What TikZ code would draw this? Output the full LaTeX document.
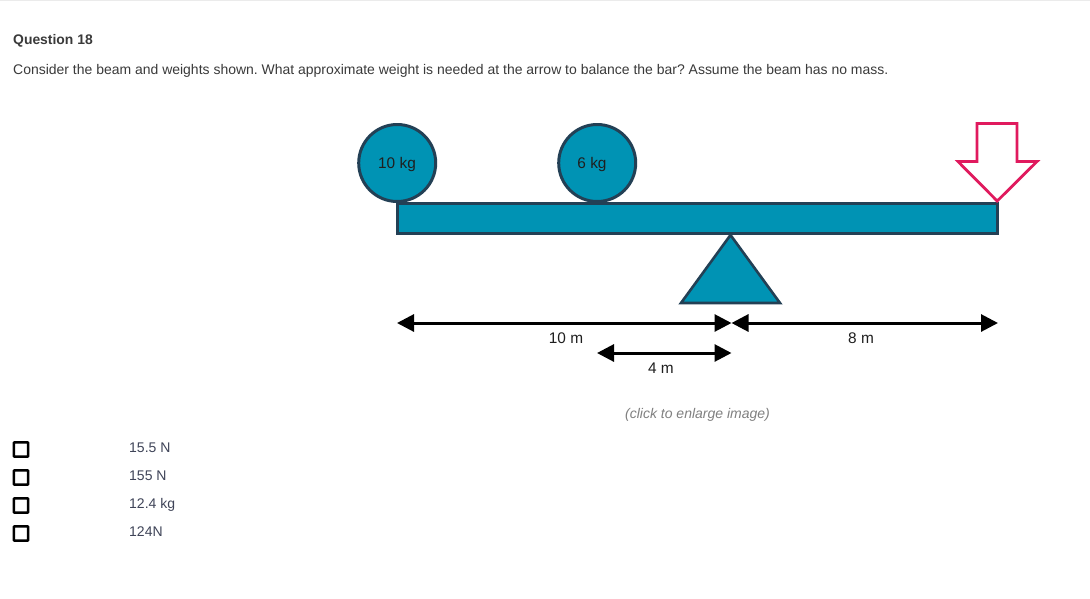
\documentclass[tikz,border=0pt]{standalone}
\usepackage{fontspec}
\setmainfont{Liberation Sans}
\usetikzlibrary{arrows.meta}
\definecolor{teal}{HTML}{0093B4}
\definecolor{edgeblue}{HTML}{234055}
\definecolor{pinkred}{HTML}{E01A5E}
\definecolor{bodytext}{HTML}{3A3A3A}
\definecolor{opttext}{HTML}{3F4458}
\tikzset{
  shape part/.style={draw=edgeblue,fill=teal,line width=3pt,line join=miter,outer sep=0pt},
  massball/.style={shape part,circle,minimum size=77pt,inner sep=0pt},
  dim/.style={line width=3pt,{Triangle[length=17pt,width=17pt]}-{Triangle[length=17pt,width=17pt]}},
  lab/.style={inner sep=0pt,anchor=base,font=\fontsize{15.4}{17}\selectfont,text=black!88},
  txt/.style={inner sep=0pt,anchor=base west,font=\fontsize{13.97}{16}\selectfont,text=bodytext},
  opt/.style={inner sep=0pt,anchor=base west,font=\fontsize{14}{16}\selectfont,text=opttext},
  tick/.style={draw=black,line width=2.5pt,rounded corners=0.6pt,minimum size=14.2pt,inner sep=0pt,outer sep=0pt}
}
\begin{document}
\begin{tikzpicture}[x=1pt,y=-1pt]
\frenchspacing
\useasboundingbox[fill=white] (0,0) rectangle (1090,598);
\fill[black!8] (0,0) rectangle (1090,1);
\node[txt,font=\fontsize{13.9}{16}\selectfont\bfseries] (title) at (13,44.2) {Question 18};
\node[txt] (question) at (13,74.2) {Consider the beam and weights shown. What approximate weight is needed at the arrow to balance the bar? Assume the beam has no mass.};
% beam
\node[shape part,rectangle,minimum width=600pt,minimum height=30pt,inner sep=0pt,anchor=north west] (beam) at (397.5,203.5) {};
\node[massball] (m10) at (397.2,163) {};
\node[massball] (m6) at (597.2,163) {};
\node[lab] (l10) at (397,168) {10 kg};
\node[lab] (l6) at (592,168) {6 kg};
% fulcrum
\path[shape part,line width=2.6pt] (730.5,235) coordinate (apex) -- (780,303) -- (681,303) -- cycle;
% load arrow
\draw[draw=pinkred,line width=2.8pt,line join=miter,fill=white] (977,123.5) -- (1017,123.5) -- (1017,161.5) -- (1037,161.5) -- (997.2,201) coordinate (tip) -- (958,161.5) -- (977,161.5) -- cycle;
% dimensions
\coordinate (d1) at (397,323);
\coordinate (d2) at (731.5,323);
\coordinate (d3) at (998,323);
\coordinate (d4) at (597,353);
\coordinate (d5) at (731.5,353);
\draw[dim] (d1) -- (d2);
\draw[dim] (d2) -- (d3);
\draw[dim] (d4) -- (d5);
\node[lab] (l10m) at (566,343) {10 m};
\node[lab] (l8m) at (861,343) {8 m};
\node[lab] (l4m) at (661,373) {4 m};
\node[txt,anchor=base,text=gray,font=\fontsize{14}{16}\selectfont\itshape] (cap) at (697.5,418) {(click to enlarge image)};
% options
\node[tick] (b1) at (21,449.5) {};
\node[tick] (b2) at (21,477.5) {};
\node[tick] (b3) at (21,505.5) {};
\node[tick] (b4) at (21,533.5) {};
\node[opt] (o1) at (129,452.2) {15.5 N};
\node[opt] (o2) at (129,480.2) {155 N};
\node[opt] (o3) at (129,508.2) {12.4 kg};
\node[opt] (o4) at (129,536.2) {124N};
\end{tikzpicture}
\end{document}
